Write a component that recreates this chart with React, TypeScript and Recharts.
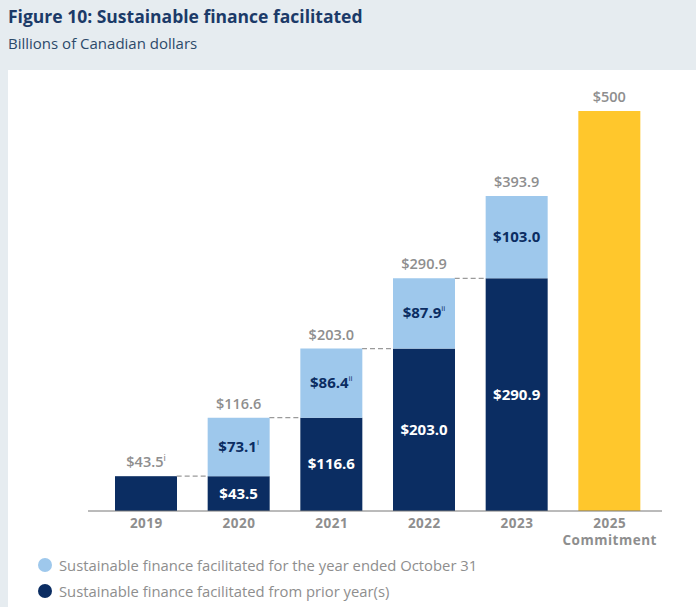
import { BarChart, Bar, XAxis, YAxis, LabelList } from 'recharts';

const years = ['2019', '2020', '2021', '2022', '2023', '2025\nCommitment'];
const priorYears = [43.5, 43.5, 116.6, 203.0, 290.9, 0];
const forYear = [0, 73.1, 86.4, 87.9, 103.0, 0];
const commitment = [0, 0, 0, 0, 0, 500];
const totals = [43.5, 116.6, 203.0, 290.9, 393.9, 500];
// footnote marks: on the top label for 2019, on the year label otherwise
const notes = ['i', 'i', 'ii', 'ii', '', ''];

const NAVY = '#0b2d62';
const LIGHT = '#9ec8ec';
const GOLD = '#ffc72c';
const GREY = '#8e8e8e';

const data = years.map((year, i) => ({
  year,
  prior: priorYears[i],
  current: forYear[i],
  commit: commitment[i],
}));

document.body.style.margin = '0';

const money = (v: number) => (Number.isInteger(v) && v >= 500 ? `$${v}` : `$${v.toFixed(1)}`);

function TopLabel({ cx, y, value, note }: { cx: number; y: number; value: number; note?: string }) {
  return (
    <text x={cx} y={y - 9} textAnchor='middle' fill={GREY} fontSize={14.5} fontWeight={600}>
      {money(value)}
      {note ? (
        <tspan fontSize={8} dy={-6}>
          {note}
        </tspan>
      ) : null}
    </text>
  );
}

function PriorShape(props: any) {
  const { x, y, width, height, index } = props;
  return (
    <g>
      <rect x={x} y={y} width={width} height={height} fill={NAVY} />
      {index >= 1 && index <= 4 ? (
        <line x1={x - 31} x2={x} y1={y} y2={y} stroke='#9a9a9a' strokeDasharray='5 3' strokeWidth={1.2} />
      ) : null}
    </g>
  );
}

function priorLabel(props: any) {
  const { x, y, width, height, value, index } = props;
  if (!value) return null;
  // 2019 has no split: its total sits above the bar
  if (index === 0) return <TopLabel cx={x + width / 2} y={y} value={totals[0]} note={notes[0]} />;
  return (
    <text x={x + width / 2} y={y + height / 2 + 5} textAnchor='middle' fill='#fff' fontSize={15} fontWeight={700}>
      {money(value)}
    </text>
  );
}

function currentLabel(props: any) {
  const { x, y, width, height, value } = props;
  const i = forYear.indexOf(value);
  if (!value || i < 0) return null;
  const cx = x + width / 2;
  return (
    <g>
      <text x={cx} y={y + height / 2 + 5} textAnchor='middle' fill={NAVY} fontSize={15} fontWeight={700}>
        {money(value)}
        {notes[i] ? (
          <tspan fontSize={8} fontWeight={400} dy={-7}>
            {notes[i]}
          </tspan>
        ) : null}
      </text>
      <TopLabel cx={cx} y={y} value={totals[i]} />
    </g>
  );
}

function commitLabel(props: any) {
  const { x, y, width, value } = props;
  if (!value) return null;
  return <TopLabel cx={x + width / 2} y={y} value={value} />;
}

function YearTick({ x, y, payload }: any) {
  const lines = String(payload.value).split('\n');
  return (
    <text x={x} y={y + 9} textAnchor='middle' fill={GREY} fontSize={13.5} fontWeight={700} letterSpacing={0.5}>
      {lines.map((l, i) => (
        <tspan key={l} x={x} dy={i === 0 ? 0 : 17}>
          {l}
        </tspan>
      ))}
    </text>
  );
}

const legendItems = [
  { color: LIGHT, text: 'Sustainable finance facilitated for the year ended October 31' },
  { color: NAVY, text: 'Sustainable finance facilitated from prior year(s)' },
];

export default function App() {
  return (
    <div
      style={{
        position: 'relative',
        width: 696,
        height: 607,
        background: '#e6ecf0',
        fontFamily: '"Open Sans", "Noto Sans", sans-serif',
        overflow: 'hidden',
      }}
    >
      <div style={{ position: 'absolute', left: 8, top: 4, fontSize: 17.5, fontWeight: 700, color: '#1b3a68' }}>
        Figure 10: Sustainable finance facilitated
      </div>
      <div style={{ position: 'absolute', left: 8, top: 33, fontSize: 15, color: '#2c4a6a' }}>
        Billions of Canadian dollars
      </div>
      <div style={{ position: 'absolute', left: 8, top: 70, width: 688, height: 537, background: '#fff' }} />
      <div style={{ position: 'absolute', left: 0, top: 0 }}>
        <BarChart width={696} height={607} data={data} margin={{ top: 103, right: 34, bottom: 66, left: 88 }}>
          <XAxis
            dataKey='year'
            axisLine={{ stroke: '#777' }}
            tickLine={false}
            tick={<YearTick />}
            padding={{ left: 12, right: 6 }}
            interval={0}
          />
          <YAxis hide domain={[0, 510]} />
          <Bar dataKey='prior' stackId='a' barSize={62} fill={NAVY} shape={<PriorShape />} isAnimationActive={false}>
            <LabelList dataKey='prior' content={priorLabel} />
          </Bar>
          <Bar dataKey='current' stackId='a' barSize={62} fill={LIGHT} isAnimationActive={false}>
            <LabelList dataKey='current' content={currentLabel} />
          </Bar>
          <Bar dataKey='commit' stackId='a' barSize={62} fill={GOLD} isAnimationActive={false}>
            <LabelList dataKey='commit' content={commitLabel} />
          </Bar>
        </BarChart>
      </div>
      <div style={{ position: 'absolute', left: 38, top: 552 }}>
        {legendItems.map((it) => (
          <div key={it.text} style={{ display: 'flex', alignItems: 'center', height: 26, color: GREY, fontSize: 14.8 }}>
            <span
              style={{
                width: 14,
                height: 14,
                borderRadius: '50%',
                background: it.color,
                marginRight: 7,
                display: 'inline-block',
              }}
            />
            {it.text}
          </div>
        ))}
      </div>
    </div>
  );
}
